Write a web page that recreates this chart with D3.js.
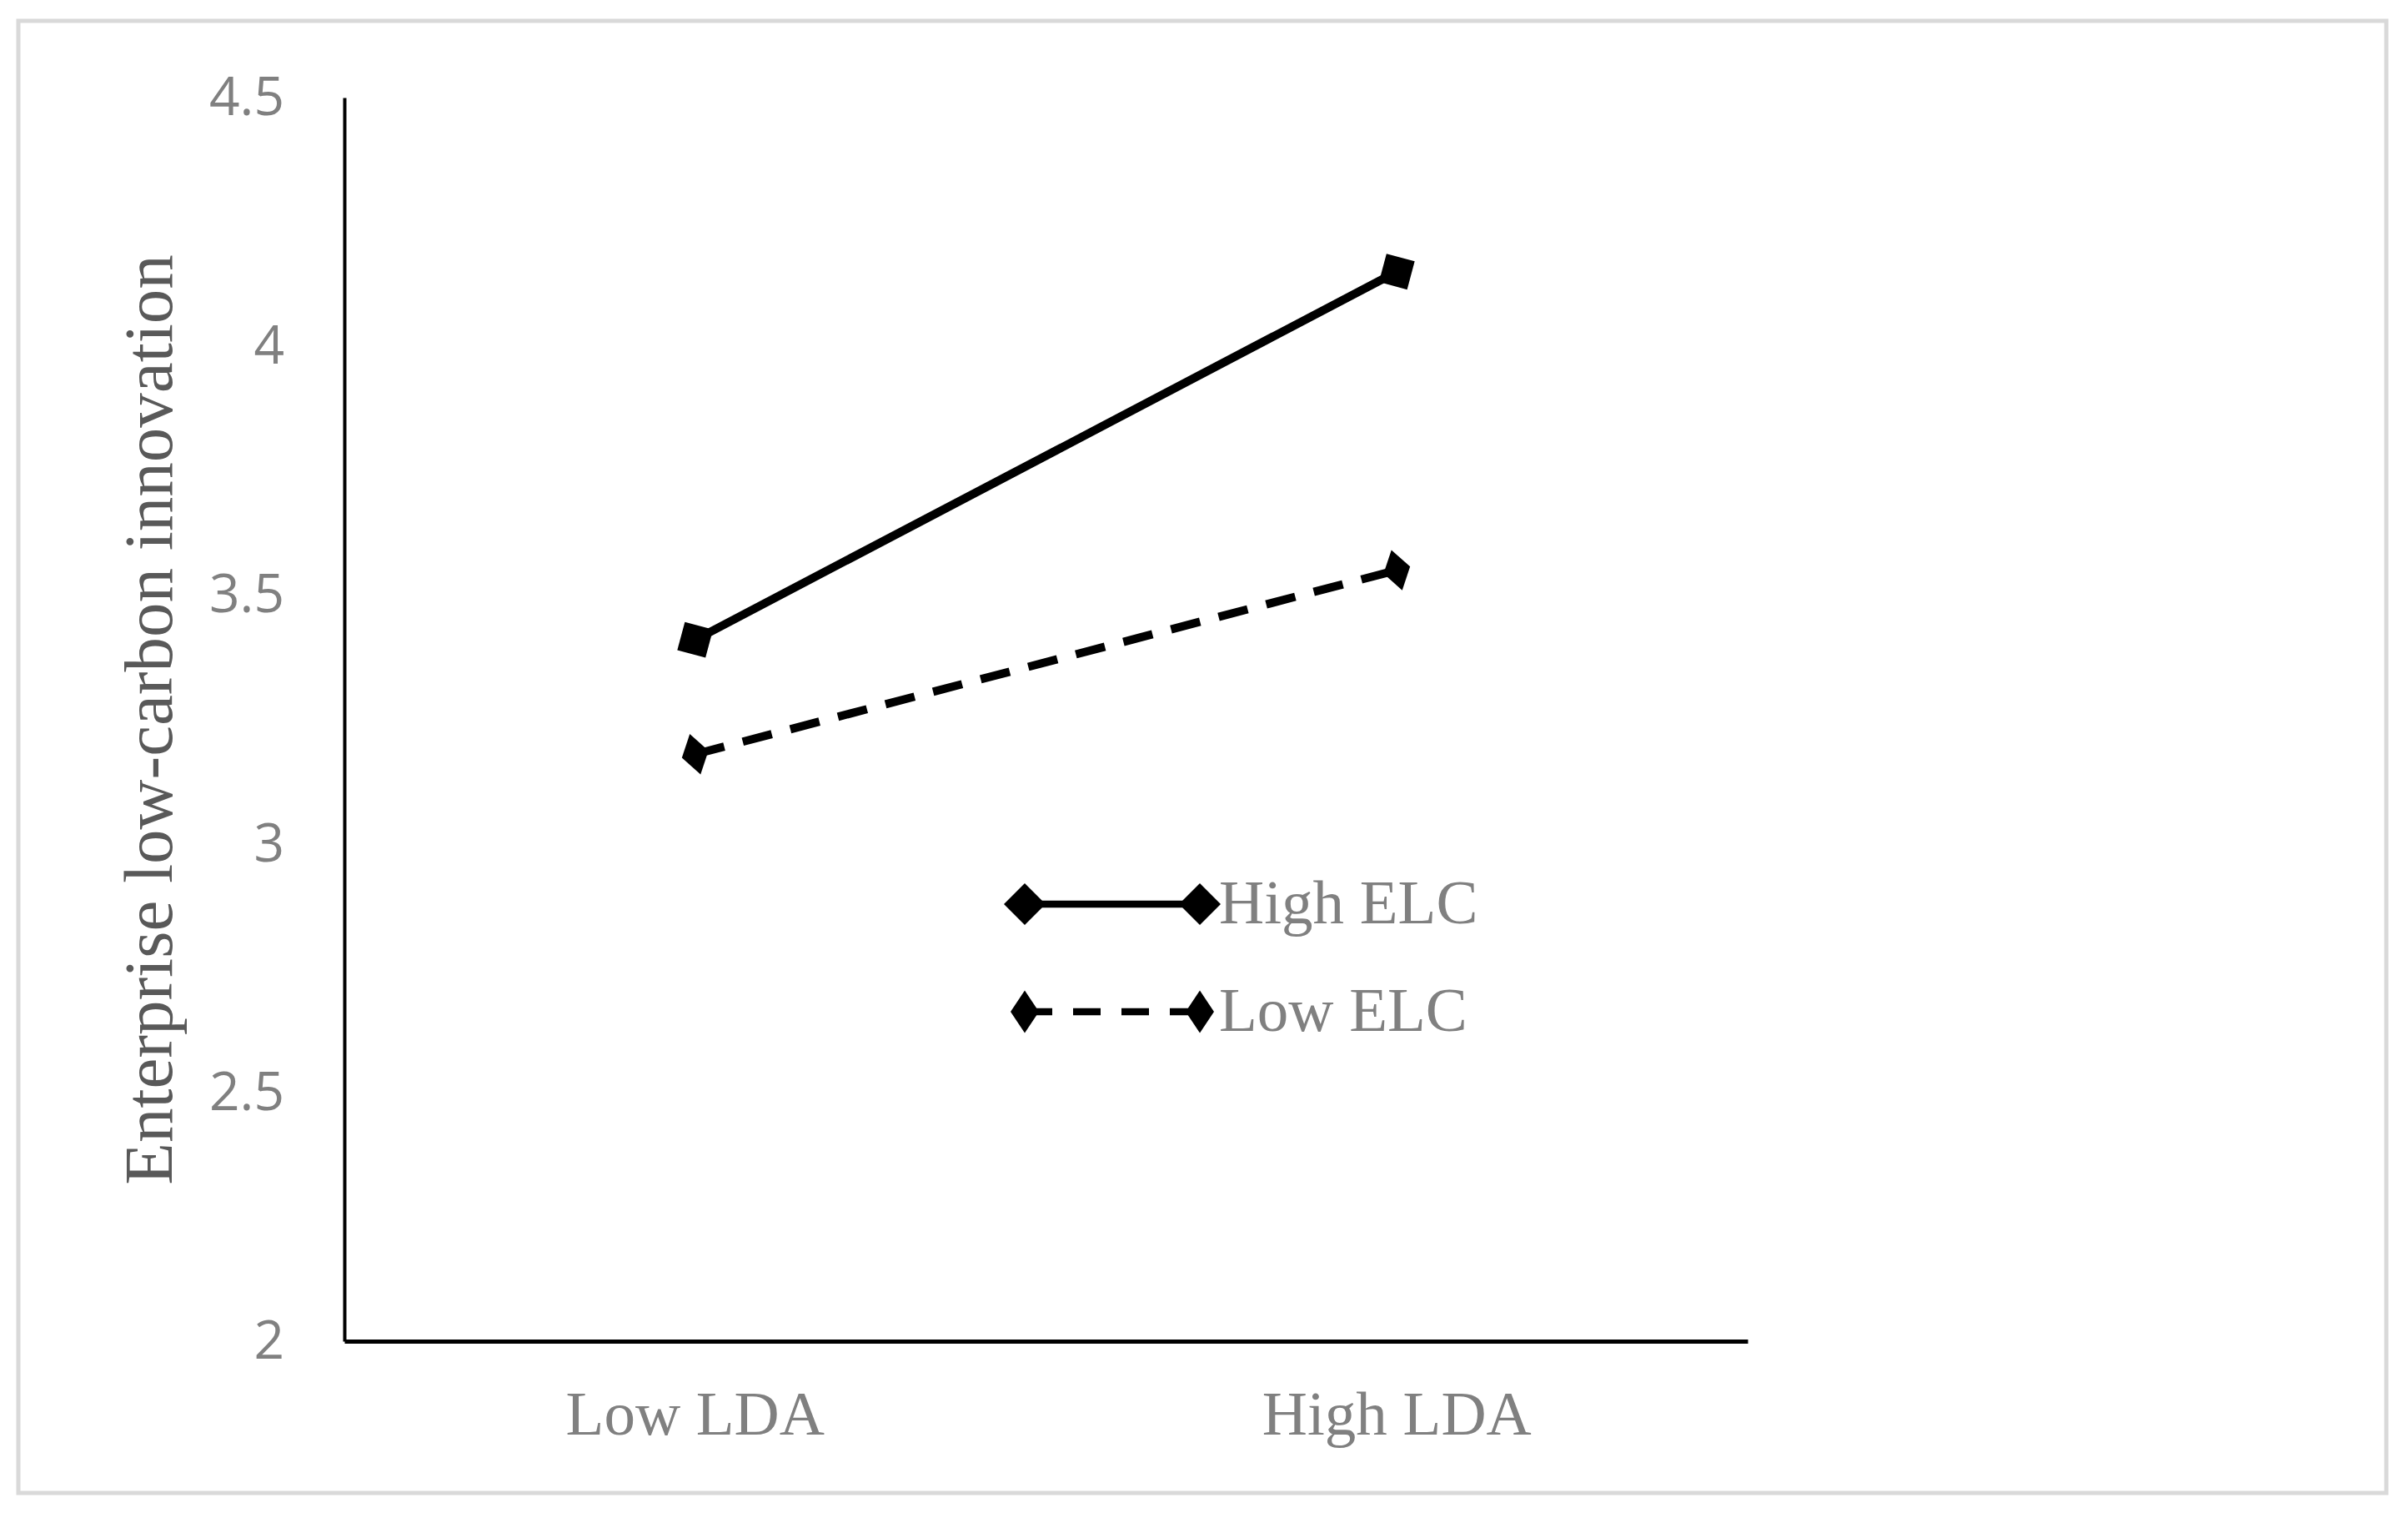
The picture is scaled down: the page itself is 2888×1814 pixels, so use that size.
<!DOCTYPE html>
<html>
<head>
<meta charset="utf-8">
<script src="https://cdn.jsdelivr.net/npm/d3@7"></script>
<style>
  body { margin: 0; background: #fff; }
</style>
</head>
<body>
<svg id="chart" width="2888" height="1814"></svg>
<script>
// chart values
const categories = ["Low LDA", "High LDA"];
const seriesNames = ["High ELC", "Low ELC"];
const highELC = [3.41, 4.15];
const lowELC = [3.18, 3.55];
const yTicks = [2, 2.5, 3, 3.5, 4, 4.5];

const svg = d3.select("#chart");

// outer frame
svg.append("rect")
    .attr("x", 22).attr("y", 25)
    .attr("width", 2840).attr("height", 1765)
    .attr("fill", "#fff")
    .attr("stroke", "#d9d9d9")
    .attr("stroke-width", 5);

const plotL = 413, plotR = 2096, plotT = 117, plotB = 1608;

const x = d3.scaleBand().domain(categories).range([plotL, plotR]).padding(0);
const y = d3.scaleLinear().domain([2, 4.5]).range([plotB, plotT]);

// y axis: line + labels only
const yAxis = d3.axisLeft(y).tickValues(yTicks).tickSize(0).tickPadding(72)
    .tickFormat(d => d3.format("")(d));
const gy = svg.append("g").attr("transform", `translate(${plotL},0)`).call(yAxis);
gy.select(".domain").attr("stroke", "#000").attr("stroke-width", 4);
gy.selectAll("text")
    .attr("font-family", "'Open Sans', sans-serif")
    .attr("font-size", 64)
    .attr("fill", "#808080");

// x axis
const xAxis = d3.axisBottom(x).tickSize(0);
const gx = svg.append("g").attr("transform", `translate(0,${plotB})`).call(xAxis);
gx.select(".domain").attr("stroke", "#000").attr("stroke-width", 5);
gx.selectAll("text")
    .attr("font-family", "'Liberation Serif', 'Times New Roman', serif")
    .attr("font-size", 75)
    .attr("fill", "#808080")
    .attr("dy", null)
    .attr("y", 112);

// y axis title
svg.append("text")
    .attr("transform", `translate(206,863) rotate(-90)`)
    .attr("text-anchor", "middle")
    .attr("font-family", "'Liberation Serif', 'Times New Roman', serif")
    .attr("font-size", 83)
    .attr("fill", "#595959")
    .text("Enterprise low-carbon innovation");

const cx = c => x(c) + x.bandwidth() / 2;
const line = d3.line().x(d => cx(d.c)).y(d => y(d.v));

// marker shapes
function squarePath(s) {
  const h = s / 2;
  return `M${-h},${-h}L${h},${-h}L${h},${h}L${-h},${h}Z`;
}
function diamondPath(w, hgt) {
  return `M0,${-hgt / 2}L${w / 2},0L0,${hgt / 2}L${-w / 2},0Z`;
}

const series = [
  { name: seriesNames[0], values: highELC, dash: null, lgDash: null },
  { name: seriesNames[1], values: lowELC, dash: "36,23", lgDash: "33,25" }
];

series.forEach((s, i) => {
  const pts = categories.map((c, j) => ({ c, v: s.values[j] }));
  svg.append("path")
      .datum(pts)
      .attr("d", line)
      .attr("fill", "none")
      .attr("stroke", "#000")
      .attr("stroke-width", 10)
      .attr("stroke-dasharray", s.dash);
  svg.selectAll(null).data(pts).join("path")
      .attr("transform", d => `translate(${cx(d.c)},${y(d.v)}) rotate(${i === 0 ? 15 : -15})`)
      .attr("d", i === 0 ? squarePath(35) : diamondPath(33, 50))
      .attr("fill", "#000");
});

// legend
const lgX0 = 1229, lgX1 = 1439, lgY = [1084, 1213];
series.forEach((s, i) => {
  const g = svg.append("g").attr("transform", `translate(0,${lgY[i]})`);
  g.append("line")
      .attr("x1", lgX0).attr("x2", lgX1)
      .attr("stroke", "#000").attr("stroke-width", 8.5)
      .attr("stroke-dasharray", s.lgDash);
  [lgX0, lgX1].forEach(px => {
    g.append("path")
        .attr("transform", `translate(${px},0)`)
        .attr("d", i === 0 ? diamondPath(50, 50) : diamondPath(34, 51))
        .attr("fill", "#000");
  });
  g.append("text")
      .attr("x", 1462).attr("y", 23)
      .attr("font-family", "'Liberation Serif', 'Times New Roman', serif")
      .attr("font-size", 75)
      .attr("fill", "#808080")
      .text(s.name);
});
</script>
</body>
</html>
